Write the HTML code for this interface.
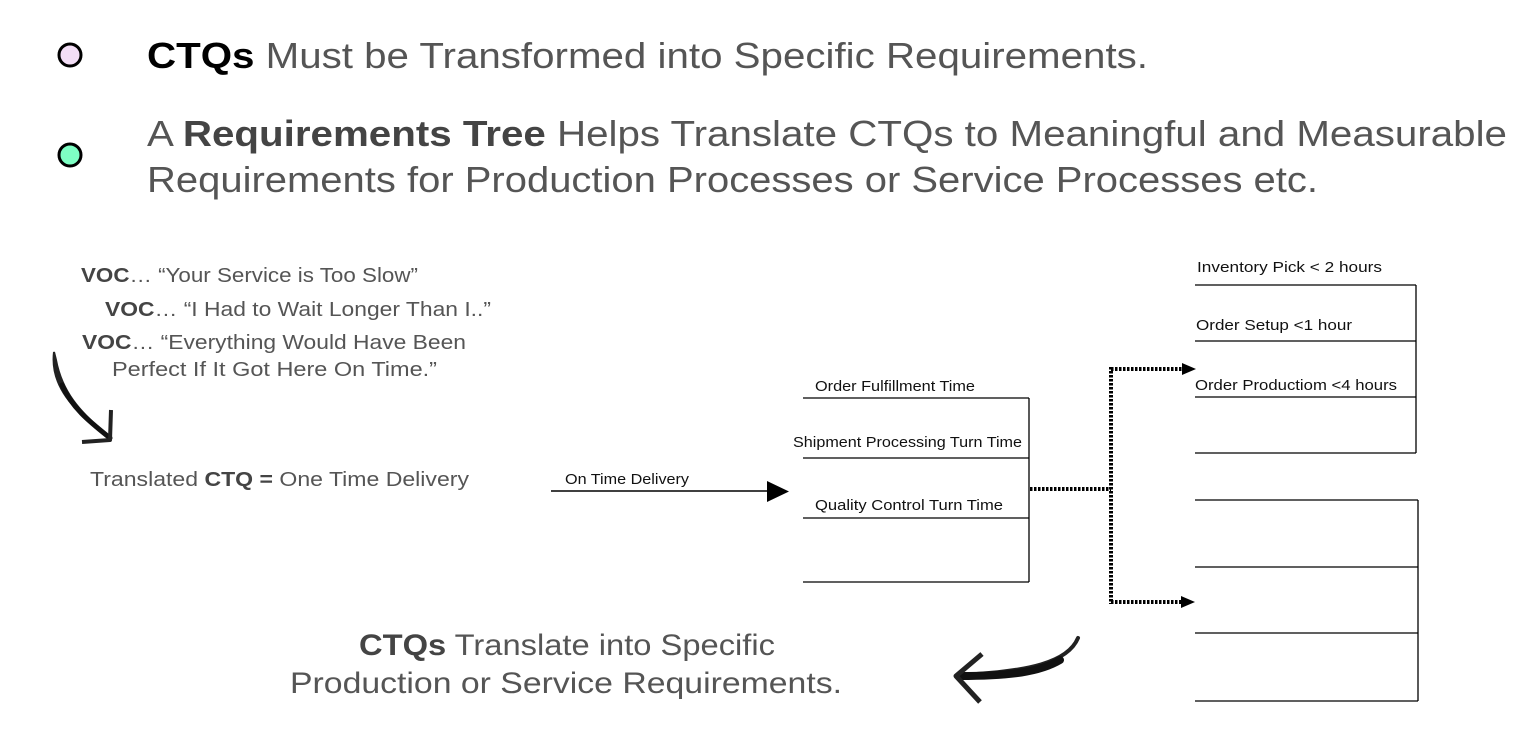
<!DOCTYPE html>
<html><head><meta charset="utf-8"><style>
html,body{margin:0;padding:0;background:#fff;}
svg{display:block;}
.o{font-family:"Liberation Sans",sans-serif;fill:#555;}
.b{font-weight:bold;}
.d{font-family:"Liberation Sans",sans-serif;fill:#111;font-size:15px;}
</style></head><body>
<svg width="1536" height="730" viewBox="0 0 1536 730" xmlns="http://www.w3.org/2000/svg">
<circle cx="70" cy="55" r="11" fill="#f3def6" stroke="#000" stroke-width="3"/>
<circle cx="70" cy="155" r="11" fill="#7effc4" stroke="#000" stroke-width="3"/>
<text class="o" x="147" y="68" font-size="36" textLength="1001" lengthAdjust="spacingAndGlyphs"><tspan class="b" fill="#000">CTQs</tspan> Must be Transformed into Specific Requirements.</text>
<text class="o" x="147" y="146" font-size="36" textLength="1360" lengthAdjust="spacingAndGlyphs">A <tspan class="b" fill="#444">Requirements Tree</tspan> Helps Translate CTQs to Meaningful and Measurable</text>
<text class="o" x="147" y="192" font-size="36" textLength="1171" lengthAdjust="spacingAndGlyphs">Requirements for Production Processes or Service Processes etc.</text>
<text class="o" x="81" y="282" font-size="20" textLength="337" lengthAdjust="spacingAndGlyphs"><tspan class="b" fill="#444">VOC</tspan>… “Your Service is Too Slow”</text>
<text class="o" x="105" y="316" font-size="20" textLength="386" lengthAdjust="spacingAndGlyphs"><tspan class="b" fill="#444">VOC</tspan>… “I Had to Wait Longer Than I..”</text>
<text class="o" x="82" y="349" font-size="20" textLength="384" lengthAdjust="spacingAndGlyphs"><tspan class="b" fill="#444">VOC</tspan>… “Everything Would Have Been</text>
<text class="o" x="112" y="376" font-size="20" textLength="325" lengthAdjust="spacingAndGlyphs">Perfect If It Got Here On Time.”</text>
<text class="o" x="90" y="486" font-size="20" textLength="379" lengthAdjust="spacingAndGlyphs">Translated <tspan class="b" fill="#444">CTQ =</tspan> One Time Delivery</text>
<!-- left swoosh (tapered) -->
<path d="M54 352 C50 385 72 410 110 438 L104 432 C80 412 62 392 56 360 Z" fill="#222" stroke="#222" stroke-width="2"/>
<path d="M62 385 C72 408 90 422 110 438" fill="none" stroke="#111" stroke-width="5" stroke-linecap="round"/>
<path d="M111 410 L110 440 L82 442" fill="none" stroke="#222" stroke-width="4" stroke-linejoin="round"/>
<text class="o" x="359" y="655" font-size="30" textLength="416" lengthAdjust="spacingAndGlyphs"><tspan class="b" fill="#444">CTQs</tspan> Translate into Specific</text>
<text class="o" x="290" y="693" font-size="30" textLength="552" lengthAdjust="spacingAndGlyphs">Production or Service Requirements.</text>
<!-- bottom swoosh -->
<path d="M1078 638 C1068 662 1030 672 958 675" fill="none" stroke="#222" stroke-width="4" stroke-linecap="round"/>
<path d="M1060 660 C1040 672 1010 676 960 676" fill="none" stroke="#111" stroke-width="8" stroke-linecap="round"/>
<path d="M982 654 L956 676 L980 702" fill="none" stroke="#222" stroke-width="5" stroke-linejoin="round"/>
<text class="d" x="565" y="484" textLength="124" lengthAdjust="spacingAndGlyphs">On Time Delivery</text>
<line x1="551" y1="491" x2="770" y2="491" stroke="#000" stroke-width="1.5"/>
<polygon points="767,481 789,491.5 767,502" fill="#000"/>
<g stroke="#000" stroke-width="1.3" fill="none">
<line x1="803" y1="398" x2="1029" y2="398"/>
<line x1="803" y1="458" x2="1029" y2="458"/>
<line x1="803" y1="518" x2="1029" y2="518"/>
<line x1="803" y1="582" x2="1029" y2="582"/>
<line x1="1029" y1="398" x2="1029" y2="582"/>
<line x1="1195" y1="285" x2="1416" y2="285"/>
<line x1="1195" y1="341" x2="1416" y2="341"/>
<line x1="1195" y1="397" x2="1416" y2="397"/>
<line x1="1195" y1="453" x2="1416" y2="453"/>
<line x1="1416" y1="285" x2="1416" y2="453"/>
<line x1="1195" y1="500" x2="1418" y2="500"/>
<line x1="1195" y1="567" x2="1418" y2="567"/>
<line x1="1195" y1="633" x2="1418" y2="633"/>
<line x1="1195" y1="701" x2="1418" y2="701"/>
<line x1="1418" y1="500" x2="1418" y2="701"/>
</g>
<text class="d" x="815" y="391" textLength="160" lengthAdjust="spacingAndGlyphs">Order Fulfillment Time</text>
<text class="d" x="793" y="447" textLength="229" lengthAdjust="spacingAndGlyphs">Shipment Processing Turn Time</text>
<text class="d" x="815" y="510" textLength="188" lengthAdjust="spacingAndGlyphs">Quality Control Turn Time</text>
<text class="d" x="1197" y="272" textLength="185" lengthAdjust="spacingAndGlyphs">Inventory Pick &lt; 2 hours</text>
<text class="d" x="1196" y="330" textLength="156" lengthAdjust="spacingAndGlyphs">Order Setup &lt;1 hour</text>
<text class="d" x="1195" y="390" textLength="202" lengthAdjust="spacingAndGlyphs">Order Productiom &lt;4 hours</text>
<g stroke="#000" stroke-width="4" fill="none" stroke-dasharray="2.5 1.5">
<line x1="1030" y1="489" x2="1111" y2="489"/>
<line x1="1111" y1="367" x2="1111" y2="604"/>
<line x1="1111" y1="369" x2="1184" y2="369"/>
<line x1="1111" y1="602" x2="1184" y2="602"/>
</g>
<polygon points="1182,363 1196,369 1182,375" fill="#000"/>
<polygon points="1181,596 1195,602 1181,608" fill="#000"/>
</svg>
</body></html>
